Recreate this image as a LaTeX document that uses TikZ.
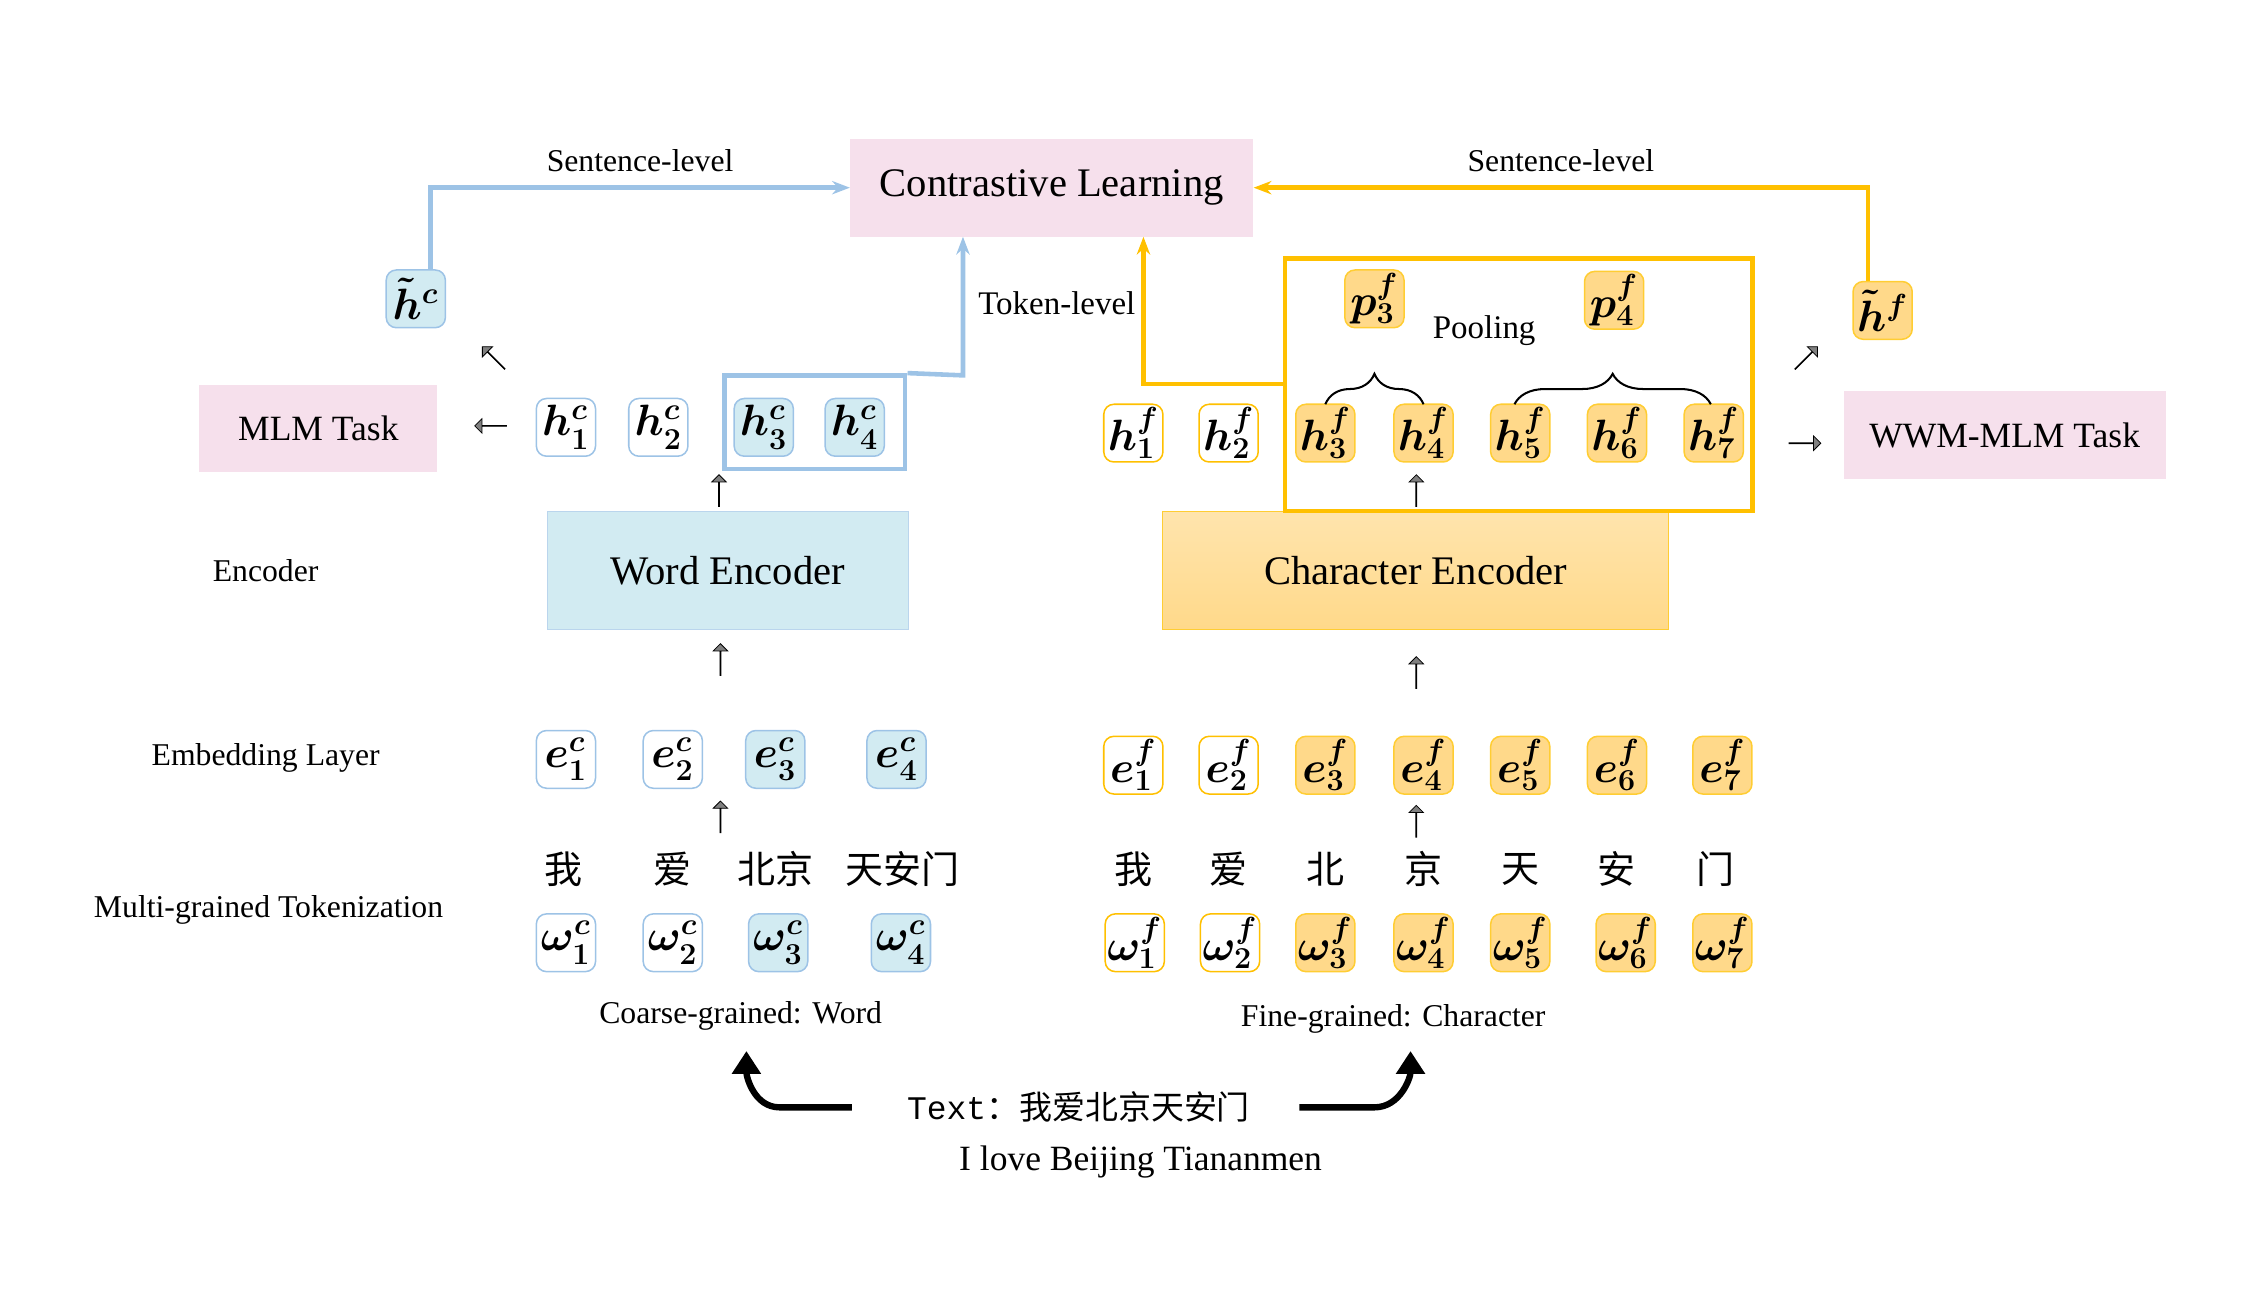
\documentclass[tikz,border=0pt]{standalone}
\usepackage{fontspec}
\setmainfont{Liberation Serif}
\newfontfamily\cjk{Noto Sans CJK SC}
\newfontfamily\monocjk{Liberation Mono}
\usetikzlibrary{shapes.arrows,decorations.pathreplacing,arrows.meta}
\definecolor{lblue}{HTML}{9DC3E6}
\definecolor{bfill}{HTML}{D2EBF2}
\definecolor{yel}{HTML}{FFC000}
\definecolor{ofill}{HTML}{FFD98A}
\definecolor{pinkf}{HTML}{F6E0EC}
\begin{document}
\begin{tikzpicture}[x=0.02cm,y=-0.02cm,
 tok/.style={draw=lblue,rounded corners=4pt,minimum width=0.82cm,minimum height=0.8cm,inner sep=0pt,font=\fontsize{18}{18}\selectfont\boldmath,line width=0.6pt},
 wtok/.style={tok,fill=white},
 btok/.style={tok,fill=bfill},
 ytok/.style={tok,draw=yel,fill=white},
 otok/.style={tok,draw=yel!80,fill=ofill},
 lab/.style={font=\fontsize{12.5}{14}\selectfont},
 ch/.style={font=\cjk\fontsize{15}{15}\selectfont},
 garr/.style={single arrow,draw=black,fill=gray,line width=0.3pt,minimum height=0.44cm,minimum width=0.2cm,single arrow head extend=0.08cm,inner sep=0pt,single arrow head indent=0pt},
 bline/.style={draw=lblue,line width=1.8pt},
 yline/.style={draw=yel,line width=1.8pt},
 task/.style={fill=pinkf,font=\fontsize{14}{16}\selectfont,inner sep=0pt}
]
\useasboundingbox (0,0) rectangle (1555,902);
% top boxes
\node[task,minimum width=5.58cm,minimum height=1.36cm,font=\fontsize{16}{18}\selectfont] (cl) at (728.5,130) {Contrastive Learning};
\node[task,minimum width=3.3cm,minimum height=1.2cm] (mlm) at (220.5,297) {MLM Task};
\node[task,minimum width=4.46cm,minimum height=1.22cm] (wwm) at (1388.5,301.5) {WWM-MLM Task};
\node[btok] (htc) at (288,207) {$\tilde{h}^c$};
\node[otok] (htf) at (1304,215) {$\tilde{h}^f$};
% word side
\foreach \x/\i/\s in {392/1/wtok,456/2/wtok,529/3/btok,592/4/btok}
  \node[\s] (hc\i) at (\x,296) {$h^c_{\i}$};
\node[draw=lblue,line width=1.8pt,minimum width=2.5cm,minimum height=1.3cm,inner sep=0pt] (hcbox) at (564.5,292.5) {};
\node[draw=lblue!70,fill=bfill,minimum width=5cm,minimum height=1.64cm,font=\fontsize{16}{18}\selectfont] (we) at (504,395) {Word Encoder};
\node[draw=yel!80,top color=ofill!70,bottom color=ofill,minimum width=7.02cm,minimum height=1.64cm,font=\fontsize{16}{18}\selectfont] (ce) at (980.5,395) {Character Encoder};
% char side
\foreach \x/\i/\s in {785/1/ytok,851/2/ytok,918/3/otok,986/4/otok,1053/5/otok,1120/6/otok,1187/7/otok}
  \node[\s] (hf\i) at (\x,300) {$h^f_{\i}$};
\node[otok] (p3) at (952,207) {$p^f_3$};
\node[otok] (p4) at (1118,208) {$p^f_4$};
\node[lab,font=\fontsize{13}{14}\selectfont] (pool) at (1028,229) {Pooling};
\node[draw=yel,line width=1.8pt,minimum width=6.48cm,minimum height=3.5cm,inner sep=0pt] (fbox) at (1052,266.5) {};
\draw[decorate,decoration={brace,amplitude=12pt},thick] (918,280) -- (986,280);
\draw[decorate,decoration={brace,amplitude=12pt},thick] (1049,280) -- (1185,280);
% embeddings
\foreach \x/\i/\s in {392/1/wtok,466/2/wtok,537/3/btok,621/4/btok}
  \node[\s] (ec\i) at (\x,526) {$e^c_{\i}$};
\foreach \x/\i/\s in {785/1/ytok,851/2/ytok,918/3/otok,986/4/otok,1053/5/otok,1120/6/otok,1193/7/otok}
  \node[\s] (ef\i) at (\x,530) {$e^f_{\i}$};
% chars
\node[ch] (c1) at (390,602) {我};
\node[ch] (c2) at (466,602) {爱};
\node[ch] (c3) at (537,602) {北京};
\node[ch] (c4) at (625,602) {天安门};
\foreach \x/\c [count=\i] in {785/我,851/爱,918/北,986/京,1053/天,1120/安,1188/门}
  \node[ch] (cf\i) at (\x,602) {\c};
% omegas
\foreach \x/\i/\s in {392/1/wtok,466/2/wtok,539/3/btok,624/4/btok}
  \node[\s] (wc\i) at (\x,653) {$\omega^c_{\i}$};
\foreach \x/\i/\s in {786/1/ytok,852/2/ytok,918/3/otok,986/4/otok,1053/5/otok,1126/6/otok,1193/7/otok}
  \node[\s] (wf\i) at (\x,653) {$\omega^f_{\i}$};
% left labels
\node[lab] (l1) at (184,395) {Encoder};
\node[lab] (l2) at (184,525) {Embedding Layer};
\node[lab] (l3) at (186,630) {Multi-grained Tokenization};
\node[lab] (cg) at (513,704) {Coarse-grained: Word};
\node[lab] (fg) at (965,706) {Fine-grained: Character};
\node[font=\monocjk\fontsize{13}{14}\selectfont] (txt) at (747,767) {Text\cjk：我爱北京天安门};
\node[font=\fontsize{14}{16}\selectfont] (eng) at (790,805) {I love Beijing Tiananmen};
\coordinate (la) at (517,728);
\coordinate (ra) at (977,728);
\draw[line width=2.5pt,-{Triangle[length=9pt,width=11pt]}] (590,767) -- (540,767) to[out=180,in=-90] (la);
\draw[line width=2.5pt,-{Triangle[length=9pt,width=11pt]}] (900,767) -- (952,767) to[out=0,in=-90] (ra);
% gray arrows
\foreach \x/\y [count=\k] in {498/340,499/457,499/566,981/340,981/466,981/569}
  \node[garr,rotate=90] (ga\k) at (\x,\y) {};
\node[garr,rotate=180] (gl) at (340,295) {};
\node[garr] (gr) at (1250,307) {};
\node[garr,rotate=135] (gnw) at (342,248) {};
\node[garr,rotate=45] (gne) at (1251,248) {};
% connectors
\draw[bline,-{Stealth[length=7pt]}] (htc.north -| 298,0) |- (cl.west) node[pos=0.75,above,lab,black,yshift=2pt] {Sentence-level};
\coordinate (tk) at (667,164);
\draw[bline,-{Stealth[length=7pt]}] (hcbox.north east) -- (667,260) -- (tk);
\node[lab,font=\fontsize{13}{14}\selectfont] (tkl) at (732,210) {Token-level};
\draw[yline,-{Stealth[length=7pt]}] (htf.north -| 1294,0) |- (cl.east) node[pos=0.75,above,lab,black,yshift=2pt] {Sentence-level};
\coordinate (yk) at (792,164);
\draw[yline,-{Stealth[length=7pt]}] (fbox.west |- 0,266) -- (792,266) -- (yk);
\end{tikzpicture}
\end{document}
